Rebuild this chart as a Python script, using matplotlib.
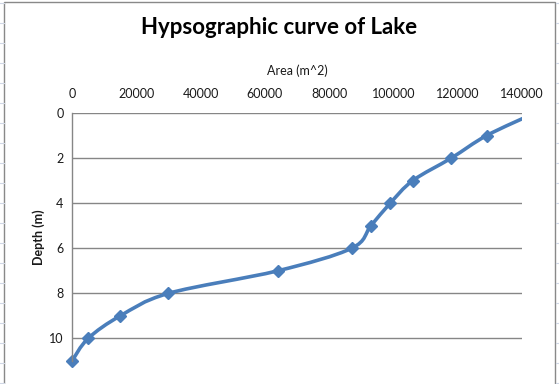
#!/usr/bin/env python3
# plot.py - hypsographic curve, Excel look

import numpy as np
import matplotlib
matplotlib.use("Agg")
import matplotlib.pyplot as plt
from matplotlib.path import Path
from matplotlib.patches import PathPatch, Rectangle
from matplotlib.lines import Line2D

# data
area = [0, 5000, 15000, 30000, 64000, 87000, 93000, 99000, 106000, 118000, 129000]
depth = [11, 10, 9, 8, 7, 6, 5, 4, 3, 2, 1]
# surface point, falls just past the axis end
surface_area = 144000
surface_depth = 0

x_ticks = [0, 20000, 40000, 60000, 80000, 100000, 120000, 140000]
y_ticks = [0, 2, 4, 6, 8, 10]

LINE_COLOR = "#4A7EBB"
GRID_COLOR = "#868686"
TEXT_COLOR = "#1a1a1a"

plt.rcParams["font.family"] = ["Lato", "DejaVu Sans"]

W, H = 559, 384
fig = plt.figure(figsize=(W / 100, H / 100), dpi=100)

# spreadsheet cells peeking out around the chart frame
for yy in range(3, H, 20):
    fig.add_artist(Line2D([0, 4 / W], [1 - yy / H] * 2, color="#d0d7e5", lw=0.8,
                          transform=fig.transFigure))
    fig.add_artist(Line2D([556 / W, 1], [1 - yy / H] * 2, color="#d0d7e5", lw=0.8,
                          transform=fig.transFigure))
fig.add_artist(Rectangle((4 / W, -0.05), (555 - 4) / W, 1.05 - 2 / H,
                         transform=fig.transFigure, fill=False,
                         edgecolor="#898989", lw=1.0))

left, right, top, bottom = 72, 522, 113, 361
ax = fig.add_axes([left / W, 1 - bottom / H, (right - left) / W, (bottom - top) / H])

ax.set_xlim(0, 140000)
ax.set_ylim(11, 0)
ax.xaxis.tick_top()
ax.xaxis.set_label_position("top")
ax.set_xticks(x_ticks)
ax.set_yticks(y_ticks)
ax.tick_params(axis="both", length=0, labelsize=9, colors=TEXT_COLOR, pad=6)
ax.tick_params(axis="x", pad=9)
for s in ["right", "bottom", "top"]:
    ax.spines[s].set_visible(False)
ax.spines["left"].set_color(GRID_COLOR)
ax.spines["left"].set_linewidth(1.0)
ax.yaxis.grid(True, color=GRID_COLOR, lw=1.0)
ax.set_axisbelow(True)

ax.set_xlabel("Area (m^2)", fontsize=9, color=TEXT_COLOR, labelpad=10)
ax.set_ylabel("Depth (m)", fontsize=9, fontweight="bold", color=TEXT_COLOR, labelpad=3)
fig.text(279 / W, 1 - 28 / H, "Hypsographic curve of Lake", ha="center", va="center",
         fontsize=16, fontweight="bold", color="black")

# smoothed line like Excel's "smoothed line" option (Catmull-Rom in screen space)
xs = np.array(area + [surface_area], dtype=float)
ys = np.array(depth + [surface_depth], dtype=float)
sx = (right - left) / 140000.0
sy = (bottom - top) / 11.0
px, py = xs * sx, ys * sy
verts = [(xs[0], ys[0])]
codes = [Path.MOVETO]
n = len(xs)
for i in range(n - 1):
    i0 = max(i - 1, 0)
    i3 = min(i + 2, n - 1)
    c1x = px[i] + (px[i + 1] - px[i0]) / 6
    c1y = py[i] + (py[i + 1] - py[i0]) / 6
    c2x = px[i + 1] - (px[i3] - px[i]) / 6
    c2y = py[i + 1] - (py[i3] - py[i]) / 6
    verts += [(c1x / sx, c1y / sy), (c2x / sx, c2y / sy), (xs[i + 1], ys[i + 1])]
    codes += [Path.CURVE4] * 3
ax.add_patch(PathPatch(Path(verts, codes), facecolor="none", edgecolor=LINE_COLOR,
                       lw=2.6, capstyle="round", joinstyle="round"))
ax.plot(area, depth, linestyle="none", marker="D", markersize=6.5,
        color=LINE_COLOR, clip_on=False)

fig.savefig("out.png", dpi=100)
